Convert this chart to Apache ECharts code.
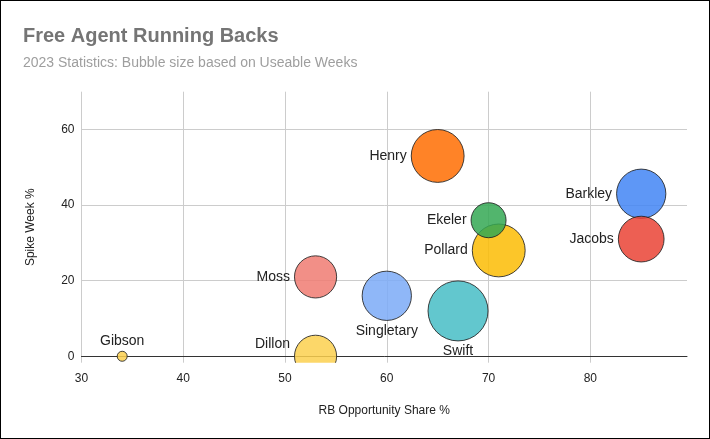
<!DOCTYPE html>
<html>
<head>
<meta charset="utf-8">
<script src="https://cdn.jsdelivr.net/npm/echarts@6/dist/echarts.min.js"></script>
<style>
  html, body { margin: 0; padding: 0; background: #fff; }
  #chart { width: 708px; height: 437px; border: 1px solid #000; }
</style>
</head>
<body>
<div id="chart"></div>
<script>
// players, RB opportunity share, spike week %, useable weeks (bubble size)
var players = ["Barkley", "Jacobs", "Pollard", "Ekeler", "Henry", "Swift", "Singletary", "Moss", "Dillon", "Gibson"];
var oppShare = [85, 85, 71, 70, 65, 67, 60, 53, 53, 34];
var spikeWeek = [43, 31, 28, 36, 53, 12, 16, 21, 0, 0];
var useableWeeks = [11, 10, 12, 7, 12, 14, 11, 9, 9, 0];

var xTicks = [30, 40, 50, 60, 70, 80];
var yTicks = [0, 20, 40, 60];

// google sheets palette, one colour per bubble
var colors = ["#4285F4", "#EA4335", "#FBBC04", "#34A853", "#FF6D01", "#46BDC6", "#7BAAF7", "#F07B72", "#FCD04F", "#FCD04F"];

// where each name sits relative to its bubble
var labelPos = {
    Singletary: "bottom",
    Swift: "bottom",
    Gibson: "top"
};

var FONT = "Liberation Sans, Arial";
var minR = 5, maxR = 30;
var sMin = Math.min.apply(null, useableWeeks);
var sMax = Math.max.apply(null, useableWeeks);

function radius(v) {
    return minR + (maxR - minR) * (v - sMin) / (sMax - sMin);
}

var data = players.map(function (p, i) {
    return {
        name: p,
        value: [oppShare[i], spikeWeek[i], useableWeeks[i], i]
    };
});
// bigger bubbles underneath
data.sort(function (a, b) { return b.value[2] - a.value[2]; });

function renderBubble(params, api) {
    var c = api.coord([api.value(0), api.value(1)]);
    var i = api.value(3);
    var name = players[i];
    var pos = labelPos[name] || "left";
    var textConfig = { position: pos, distance: pos === "left" ? 4 : 3 };
    if (name === "Dillon") textConfig.offset = [0, -12];
    return {
        type: "circle",
        shape: { cx: c[0], cy: c[1], r: radius(api.value(2)) },
        style: {
            fill: colors[i],
            stroke: "#222",
            lineWidth: 1,
            opacity: 0.85
        },
        textContent: {
            style: {
                text: name,
                fontFamily: FONT,
                fontSize: 14,
                fill: "#222"
            }
        },
        textConfig: textConfig
    };
}

var chart = echarts.init(document.getElementById("chart"));

var option = {
    animation: false,
    title: {
        text: "Free Agent Running Backs",
        subtext: "2023 Statistics: Bubble size based on Useable Weeks",
        left: 17,
        top: 20,
        itemGap: 10,
        textStyle: {
            fontFamily: FONT,
            fontSize: 20,
            fontWeight: "bold",
            color: "#757575"
        },
        subtextStyle: {
            fontFamily: FONT,
            fontSize: 14,
            color: "#9e9e9e"
        }
    },
    grid: { left: 80.5, right: 22, top: 90.7, bottom: 75.3 },
    xAxis: {
        type: "value",
        min: 30,
        max: 89.5,
        interval: 10,
        name: "RB Opportunity Share %",
        nameLocation: "middle",
        nameGap: 42,
        nameTextStyle: { fontFamily: FONT, fontSize: 12, color: "#222" },
        axisLine: { show: true, onZero: true, lineStyle: { color: "#333", width: 1 } },
        axisTick: { show: false },
        axisLabel: {
            margin: 10,
            fontFamily: FONT,
            fontSize: 12,
            color: "#222",
            showMaxLabel: false
        },
        splitLine: { show: true, showMaxLine: false, lineStyle: { color: "#ccc", width: 1 } }
    },
    yAxis: {
        type: "value",
        min: -1.7,
        max: 70,
        name: "Spike Week %",
        nameLocation: "middle",
        nameGap: 45,
        nameTextStyle: { fontFamily: FONT, fontSize: 12, color: "#222" },
        axisLine: { show: false },
        axisTick: { show: false, customValues: yTicks },
        axisLabel: {
            customValues: yTicks,
            margin: 7,
            fontFamily: FONT,
            fontSize: 12,
            color: "#222"
        },
        splitLine: { show: true, lineStyle: { color: "#ccc", width: 1 } }
    },
    series: [{
        type: "custom",
        clip: true,
        renderItem: renderBubble,
        encode: { x: 0, y: 1 },
        data: data,
        emphasis: { disabled: true }
    }]
};

chart.setOption(option);
</script>
</body>
</html>
